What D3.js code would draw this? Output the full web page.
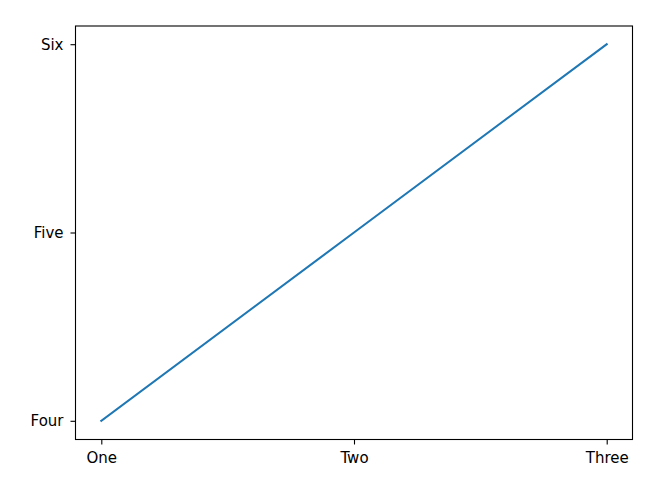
<!DOCTYPE html>
<html><head><meta charset="utf-8">
<script src="https://cdn.jsdelivr.net/npm/d3@7"></script>
<style>html,body{margin:0;padding:0;background:#fff}</style>
</head><body>
<script>
const xCategories = ["One", "Two", "Three"];
const yCategories = ["Four", "Five", "Six"];
const seriesX = ["One", "Two", "Three"];
const seriesY = ["Four", "Five", "Six"];

const W = 671, H = 483;
const frame = {left: 75.5, right: 632.5, top: 26, bottom: 439.5};
const svg = d3.select("body").append("svg").attr("width", W).attr("height", H)
  .style("font-family", "'DejaVu Sans', sans-serif");

const x = d3.scalePoint().domain(xCategories).range([101.3, 606.7]);
const y = d3.scalePoint().domain(yCategories).range([420.8, 44.2]);

const fs = 15, tickLen = 5;

const xAxis = d3.axisBottom(x).tickSize(tickLen).tickPadding(8.2);
const gx = svg.append("g").attr("transform", `translate(0,${frame.bottom})`).call(xAxis);
const yAxis = d3.axisLeft(y).tickSize(tickLen).tickPadding(7);
const gy = svg.append("g").attr("transform", `translate(${frame.left},0)`).call(yAxis);
[gx, gy].forEach(g => {
  g.select(".domain").remove();
  g.selectAll(".tick line").attr("stroke", "#000").attr("stroke-width", 1.1);
  g.selectAll(".tick text").attr("fill", "#000").style("font-size", fs + "px")
   .style("font-family", "'DejaVu Sans', sans-serif");
});

const data = seriesX.map((d, i) => ({x: d, y: seriesY[i]}));
svg.append("path").datum(data)
  .attr("fill", "none").attr("stroke", "#1f77b4").attr("stroke-width", 2.08)
  .attr("stroke-linecap", "square").attr("stroke-linejoin", "round")
  .attr("d", d3.line().x(d => x(d.x)).y(d => y(d.y)));

svg.append("rect").attr("x", frame.left).attr("y", frame.top)
  .attr("width", frame.right - frame.left).attr("height", frame.bottom - frame.top)
  .attr("fill", "none").attr("stroke", "#000").attr("stroke-width", 1.1);
</script>
</body></html>
